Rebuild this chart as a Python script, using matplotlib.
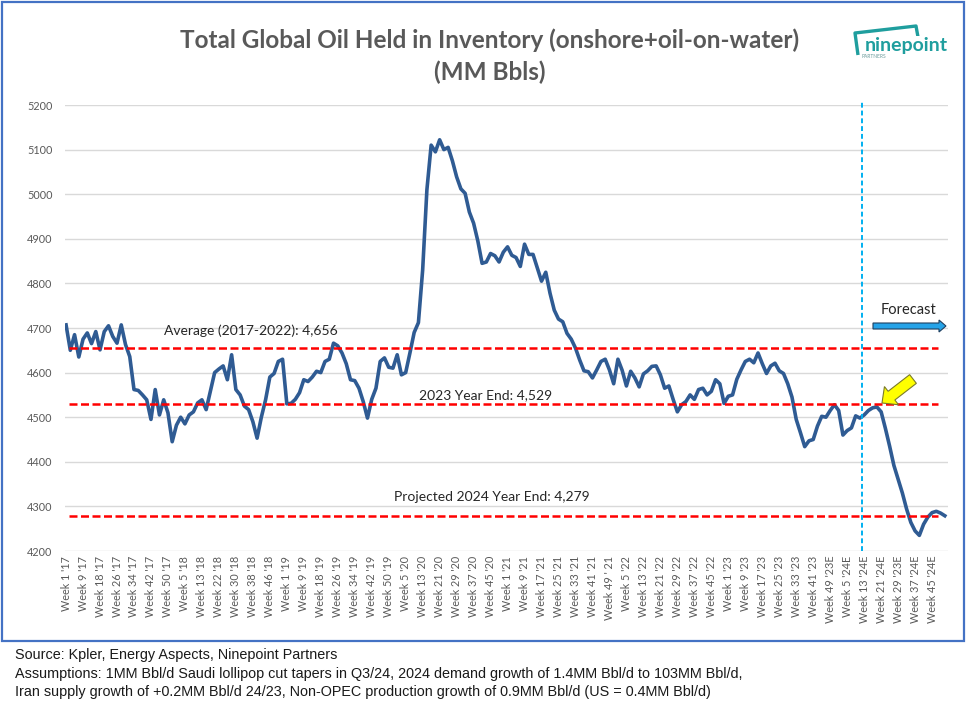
import matplotlib
matplotlib.use('Agg')
import matplotlib.pyplot as plt
from matplotlib.patches import FancyArrow, Rectangle

plt.rcParams['font.family'] = ['Lato', 'DejaVu Sans']

# one reading every 2 weeks, week 0 = Week 1 '17
week_idx = list(range(0, 416, 2))
inventory = [
    4707, 4650, 4685, 4635, 4675, 4689, 4665, 4692, 4651, 4692,
    4705, 4681, 4666, 4707, 4663, 4636, 4562, 4560, 4550, 4539,
    4495, 4562, 4505, 4539, 4510, 4445, 4482, 4500, 4485, 4505,
    4512, 4532, 4539, 4517, 4558, 4600, 4608, 4615, 4584, 4640,
    4562, 4550, 4525, 4517, 4490, 4453, 4500, 4539, 4590, 4598,
    4625, 4630,
    4530, 4531, 4540, 4555, 4584, 4580, 4590, 4603, 4600, 4625,
    4630, 4666, 4660, 4644, 4620, 4584, 4582, 4565, 4535, 4498,
    4540, 4565, 4625, 4633, 4612, 4610, 4640, 4595, 4600, 4644,
    4690, 4712,
    4830, 5010, 5110, 5095, 5122, 5100, 5105, 5075, 5039, 5012,
    5002, 4960, 4935, 4895, 4845, 4848, 4867, 4862, 4848, 4870,
    4882, 4863, 4858, 4838, 4888, 4865, 4865, 4835, 4805, 4825,
    4778, 4740, 4720, 4714, 4688, 4675, 4655, 4628, 4604, 4602,
    4588, 4606,
    4625, 4630, 4606, 4575, 4630, 4605, 4570, 4603, 4588, 4568,
    4597, 4604, 4614, 4615, 4595, 4565, 4570, 4540, 4512, 4528,
    4535, 4550, 4540, 4562, 4565, 4550, 4558, 4584, 4575, 4531,
    4547, 4550, 4585, 4606, 4625, 4630, 4622, 4644, 4620, 4598,
    4615, 4621, 4604, 4598, 4575, 4545, 4495, 4465, 4434, 4447,
    4450, 4480, 4502, 4500, 4515, 4528, 4515, 4460, 4470, 4476,
    4503, 4498, 4505, 4515, 4521, 4523, 4512, 4475, 4435, 4392,
    4361, 4330, 4294, 4264, 4245, 4235, 4260, 4276, 4286, 4289,
    4285, 4279,
]

tick_labels = [
    "Week 1 '17", "Week 9 '17", "Week 18 '17", "Week 26 '17", "Week 34 '17",
    "Week 42 '17", "Week 50 '17", "Week 5 '18", "Week 13 '18", "Week 22 '18",
    "Week 30 '18", "Week 38 '18", "Week 46 '18", "Week 1 '19", "Week 9 '19",
    "Week 18 '19", "Week 26 '19", "Week 34 '19", "Week 42 '19", "Week 50 '19",
    "Week 5 '20", "Week 13 '20", "Week 21 '20", "Week 29 '20", "Week 37 '20",
    "Week 45 '20", "Week 1 '21", "Week 9 '21", "Week 17 '21", "Week 25 '21",
    "Week 33 '21", "Week 41 '21", "Week 49 ' 21", "Week 5 '22", "Week 13 '22",
    "Week 21 '22", "Week 29 '22", "Week 37 '22", "Week 45 '22", "Week 1 '23",
    "Week 9 '23", "Week 17 '23", "Week 25 '23", "Week 33 '23", "Week 41 '23",
    "Week 49 '23E", "Week 5 '24E", "Week 13 '24E", "Week 21 '24E", "Week 29 '23E",
    "Week 37 '24E", "Week 45 '24E",
]
tick_pos = list(range(0, 416, 8))

avg_level = 4656
ye2023_level = 4529
ye2024_level = 4279
forecast_week = 375

W, H = 975, 704
fig = plt.figure(figsize=(W / 100, H / 100), dpi=100)
ax = fig.add_axes([65 / W, 1 - 551 / H, 883 / W, 446 / H])

ax.plot(week_idx, inventory, color='#2F5B93', lw=2.6, zorder=2,
        solid_joinstyle='round')

red = dict(color='#FF0000', lw=1.8, ls=(0, (3.2, 1.4)), zorder=3)
for lev in (avg_level, ye2023_level, ye2024_level):
    ax.hlines(lev, 1.5, 411, **red)
ax.axvline(forecast_week, color='#00B0F0', lw=1.4, ls=(0, (2.5, 1.5)),
           zorder=3, ymax=1.01, clip_on=False)

ax.set_xlim(-0.5, 415.5)
ax.set_ylim(4200, 5200)
ax.set_yticks(range(4200, 5201, 100))
ax.set_xticks(tick_pos)
ax.set_xticklabels(tick_labels, rotation=90, fontsize=7.8, color='#595959')
ax.tick_params(axis='y', labelsize=7.8, labelcolor='#595959', length=0, pad=9)
ax.tick_params(axis='x', length=0, pad=3.5)
ax.grid(axis='y', color='#D9D9D9', lw=1)
ax.set_axisbelow(True)
for s in ax.spines.values():
    s.set_visible(False)

txt = dict(fontsize=10, color='#262626', ha='center', va='center')
ax.text(87, 4693, 'Average (2017-2022): 4,656', **txt)
ax.text(197.5, 4550, '2023 Year End: 4,529', **txt)
ax.text(200.5, 4321, 'Projected 2024 Year End: 4,279', **txt)

fig.text(0.502, 1 - 40 / H, 'Total Global Oil Held in Inventory (onshore+oil-on-water)',
         ha='center', va='center', fontsize=17.5, fontweight='bold', color='#595959')
fig.text(0.502, 1 - 72 / H, '(MM Bbls)', ha='center', va='center',
         fontsize=17.5, fontweight='bold', color='#595959')

# overlay in pixel units for border, logo and arrows
deco = fig.add_axes([0, 0, 1, 1])
deco.set_xlim(0, W)
deco.set_ylim(H, 0)
deco.axis('off')

deco.add_patch(Rectangle((2, 2), 962, 639, fill=False, ec='#4472C4', lw=1.6))

deco.text(909, 310, 'Forecast', fontsize=10.5, color='#262626', ha='center', va='center')
deco.add_patch(FancyArrow(873, 326, 73, 0, width=6, head_width=12, head_length=7,
                          length_includes_head=True, fc='#25A3E8', ec='#1F3F5F', lw=0.8))
deco.add_patch(FancyArrow(913, 379, -31, 24, width=11, head_width=23, head_length=12,
                          length_includes_head=True, fc='#FFFF00', ec='#7A7A2A', lw=0.8))

teal = '#1F9E9E'
deco.plot([858, 855, 916, 918], [55, 33, 26, 37], color=teal, lw=2.4,
          solid_capstyle='butt')
deco.text(906, 45, 'ninepoint', fontsize=14, color=teal, ha='center', va='center',
          fontweight='bold', bbox=dict(fc='white', ec='none', pad=0.5))
deco.text(862, 57, 'PARTNERS', fontsize=3.5, color='#6A9A9A', ha='left', va='center')

foot = dict(fontsize=10.4, color='#1A1A1A', ha='left', va='center',
            family=['Liberation Sans', 'DejaVu Sans'])
deco.text(15, 655, 'Source: Kpler, Energy Aspects, Ninepoint Partners', **foot)
deco.text(15, 674, 'Assumptions: 1MM Bbl/d Saudi lollipop cut tapers in Q3/24, 2024 demand '
          'growth of 1.4MM Bbl/d to 103MM Bbl/d,', **foot)
deco.text(15, 692, 'Iran supply growth of +0.2MM Bbl/d 24/23, Non-OPEC production growth of '
          '0.9MM Bbl/d (US = 0.4MM Bbl/d)', **foot)

fig.savefig('out.png', dpi=100)
